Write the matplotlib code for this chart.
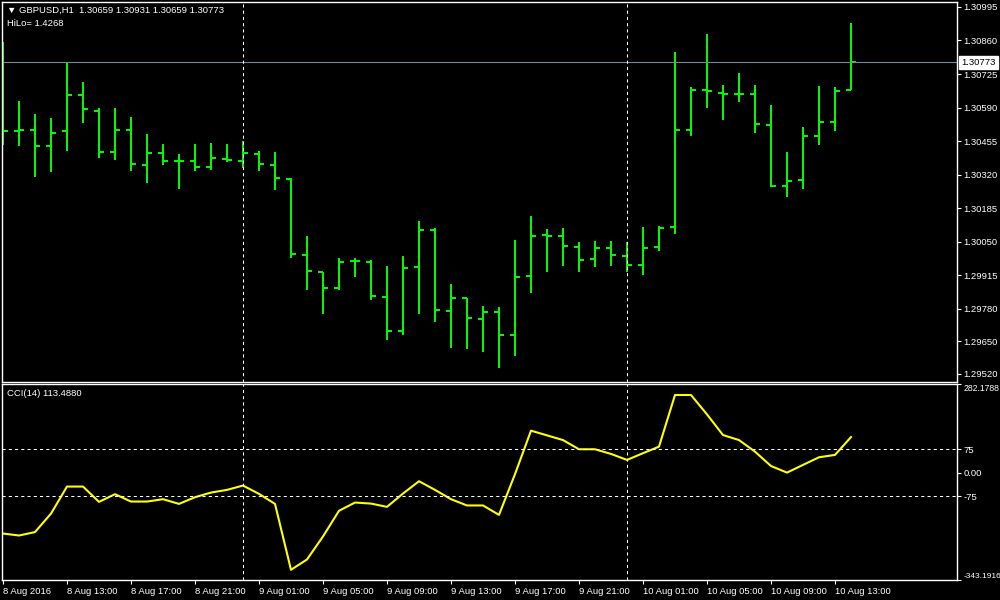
import matplotlib
matplotlib.use("Agg")
import matplotlib.pyplot as plt
import matplotlib.transforms as mtransforms
import numpy as np

plt.rcParams["font.family"] = ["Liberation Sans", "DejaVu Sans"]

# GBPUSD H1 bars, 8 Aug 2016 09:00 .. 10 Aug 2016 14:00
opens = [1.30470, 1.30497, 1.30499, 1.30435, 1.30495, 1.30642, 1.30578, 1.30411, 1.30499, 1.30360,
         1.30407, 1.30376, 1.30376, 1.30352, 1.30384, 1.30376, 1.30403, 1.30360, 1.30304, 1.29998,
         1.29927, 1.29863, 1.29971, 1.29967, 1.29828, 1.29693, 1.29947, 1.30098, 1.29772, 1.29824,
         1.29740, 1.29768, 1.29677, 1.29911, 1.30078, 1.30074, 1.30030, 1.29979, 1.30026, 1.29994,
         1.29955, 1.30030, 1.30110, 1.30499, 1.30662, 1.30650, 1.30646, 1.30646, 1.30519, 1.30276,
         1.30300, 1.30475, 1.30534, 1.30659]
highs = [1.30852, 1.30618, 1.30566, 1.30550, 1.30773, 1.30693, 1.30590, 1.30590, 1.30554, 1.30483,
         1.30443, 1.30403, 1.30443, 1.30447, 1.30443, 1.30455, 1.30415, 1.30411, 1.30308, 1.30074,
         1.29927, 1.29987, 1.29983, 1.29975, 1.29951, 1.29994, 1.30133, 1.30106, 1.29879, 1.29824,
         1.29792, 1.29788, 1.30058, 1.30153, 1.30102, 1.30106, 1.30050, 1.30054, 1.30054, 1.30050,
         1.30110, 1.30114, 1.30812, 1.30673, 1.30888, 1.30681, 1.30729, 1.30681, 1.30602, 1.30411,
         1.30511, 1.30677, 1.30673, 1.30931]
lows = [1.30439, 1.30435, 1.30312, 1.30332, 1.30415, 1.30530, 1.30388, 1.30380, 1.30336, 1.30288,
        1.30360, 1.30264, 1.30336, 1.30340, 1.30372, 1.30348, 1.30336, 1.30260, 1.29987, 1.29855,
        1.29760, 1.29855, 1.29907, 1.29816, 1.29657, 1.29677, 1.29760, 1.29728, 1.29621, 1.29617,
        1.29605, 1.29542, 1.29589, 1.29844, 1.29927, 1.29951, 1.29927, 1.29947, 1.29951, 1.29927,
        1.29915, 1.30014, 1.30082, 1.30475, 1.30590, 1.30542, 1.30614, 1.30487, 1.30272, 1.30229,
        1.30264, 1.30439, 1.30495, 1.30659]
closes = [1.30495, 1.30500, 1.30435, 1.30487, 1.30642, 1.30586, 1.30411, 1.30499, 1.30364, 1.30407,
          1.30376, 1.30376, 1.30352, 1.30388, 1.30380, 1.30407, 1.30364, 1.30308, 1.30002, 1.29931,
          1.29863, 1.29967, 1.29971, 1.29832, 1.29693, 1.29943, 1.30098, 1.29776, 1.29824, 1.29744,
          1.29768, 1.29677, 1.29907, 1.30074, 1.30074, 1.30034, 1.29975, 1.30026, 1.29998, 1.29955,
          1.30026, 1.30106, 1.30499, 1.30662, 1.30658, 1.30646, 1.30646, 1.30523, 1.30276, 1.30296,
          1.30475, 1.30534, 1.30658, 1.30773]

cci = [-194.7, -201.0, -190.0, -131.0, -44.6, -44.6, -93.5, -69.0, -92.5, -92.5,
       -85.0, -100.0, -78.6, -63.8, -55.2, -41.4, -68.0, -100.0, -310.6, -277.6,
       -204.0, -122.0, -95.7, -99.0, -109.5, -67.0, -27.6, -55.2, -85.0, -105.0,
       -105.0, -135.0, -5.0, 134.0, 119.0, 104.0, 74.6, 74.6, 59.7, 40.5,
       62.0, 83.0, 248.0, 248.0, 186.0, 120.0, 104.0, 67.0, 21.0, 0.0,
       24.6, 49.0, 56.5, 113.488]

price_ticks = [1.30995, 1.30860, 1.30725, 1.30590, 1.30455, 1.30320, 1.30185,
               1.30050, 1.29915, 1.29780, 1.29650, 1.29520]
cci_ticks = [-343.1916, -75, 0, 75, 282.1788]
cci_tick_labels = ["-343.1916", "-75", "0.00", "75", "282.1788"]
time_tick_pos = list(range(0, 54, 4))
time_tick_labels = ["8 Aug 2016", "8 Aug 13:00", "8 Aug 17:00", "8 Aug 21:00", "9 Aug 01:00",
                    "9 Aug 05:00", "9 Aug 09:00", "9 Aug 13:00", "9 Aug 17:00", "9 Aug 21:00",
                    "10 Aug 01:00", "10 Aug 05:00", "10 Aug 09:00", "10 Aug 13:00"]
day_separators = [15, 39]
last_price = 1.30773

W, H = 1000, 600
fig = plt.figure(figsize=(10, 6), dpi=100, facecolor="black")

x_left, x_right = 2.3, 957.3
ax = fig.add_axes([x_left / W, 1 - 382.3 / H, (x_right - x_left) / W, (382.3 - 1.7) / H])
ax2 = fig.add_axes([x_left / W, 1 - 580 / H, (x_right - x_left) / W, (580 - 384.3) / H])

green = "#00ff00"
x = np.arange(len(opens))
ax.vlines(x, lows, highs, color=green, lw=1.4)
ax.hlines(opens, x - 0.3, x, color=green, lw=1.4)
ax.hlines(closes, x, x + 0.3, color=green, lw=1.4)
ax.axhline(last_price, color="#778899", lw=0.8)

ax2.plot(x, cci, color="#ffff00", lw=1.5)
for lvl in [75, -75]:
    ax2.axhline(lvl, color="white", lw=0.75, ls=(0, (3, 3)))

for a in (ax, ax2):
    a.set_facecolor("black")
    a.set_xlim((x_left - 3) / 16, (x_right - 3) / 16)
    for s in a.spines.values():
        s.set_color("white")
        s.set_linewidth(1.0)
    for sep in day_separators:
        a.axvline(sep, color="white", lw=0.75, ls=(0, (3, 3)))
    a.yaxis.tick_right()
    a.tick_params(axis="y", colors="white", length=3, width=0.8, pad=1.2, labelsize=6.8)

ax.set_ylim(1.30995 - 380.3 * 0.0000397062, 1.30995 + 5.3 * 0.0000397062)
ax.set_yticks(price_ticks)
ax.set_yticklabels([f"{p:.5f}" for p in price_ticks])
ax.set_xticks([])

ax2.set_ylim(-343.1916, 282.1788)
ax2.set_yticks(cci_ticks)
ax2.set_yticklabels(cci_tick_labels)
labs = ax2.get_yticklabels()
labs[0].set_va("bottom")
labs[0].set_fontsize(6.0)
labs[-1].set_va("top")
labs[-1].set_fontsize(6.2)

ax2.set_xticks(time_tick_pos)
ax2.set_xticklabels(time_tick_labels, ha="left")
ax2.tick_params(axis="x", colors="white", length=3, width=0.8, pad=2, labelsize=6.8)

# current price box
trans = mtransforms.blended_transform_factory(ax.transAxes, ax.transData)
ax.text(1.0 + 4 / (x_right - x_left), last_price, f"{last_price:.5f}", transform=trans,
        color="black", fontsize=6.8, va="center", ha="left",
        bbox=dict(boxstyle="square,pad=0.2", fc="white", ec="white"))

fig.text(7 / W, 1 - 10 / H, "\u25bc GBPUSD,H1  1.30659 1.30931 1.30659 1.30773",
         color="white", fontsize=6.8, va="center", ha="left")
fig.text(7 / W, 1 - 23 / H, "HiLo= 1.4268", color="white", fontsize=6.8, va="center", ha="left")
fig.text(7 / W, 1 - 394 / H, "CCI(14) 113.4880", color="white", fontsize=6.8, va="center", ha="left")

fig.savefig("out.png", dpi=100, facecolor="black")
